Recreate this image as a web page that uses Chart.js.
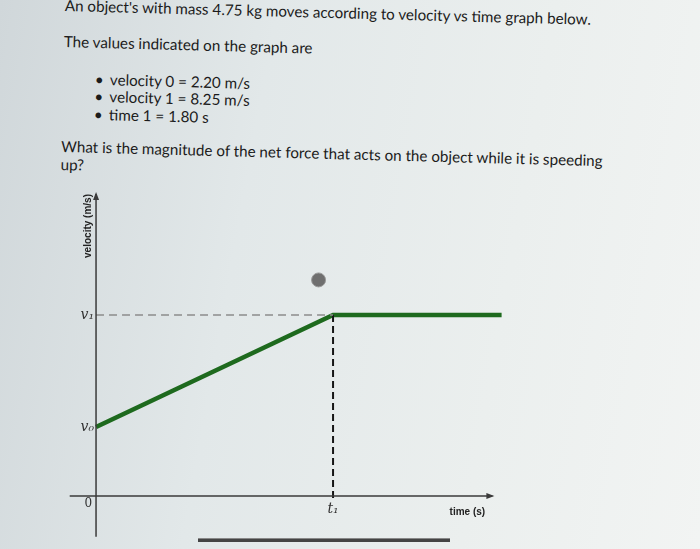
<!DOCTYPE html>
<html>
<head>
<meta charset="utf-8">
<script src="https://cdn.jsdelivr.net/npm/chart.js@4.4.0/dist/chart.umd.min.js"></script>
<style>
  html, body { margin: 0; padding: 0; }
  body {
    width: 700px; height: 549px; overflow: hidden; position: relative;
    background: linear-gradient(100deg, #d0d7da 0%, #e2e8e9 35%, #ebefee 70%, #f2f4f3 100%);
    font-family: Lato, "Open Sans", sans-serif; color: #1b1b1b;
  }
  .question { position: absolute; left: 65px; top: 0; transform: rotate(1.5deg); transform-origin: 0 0; font-size: 15.2px; }
  .question div { position: absolute; left: 0; white-space: nowrap; }
  .question .item { left: 47px; }
  .question .item::before { content: "\2022"; position: absolute; left: -15px; }
  #wrap { position: absolute; left: 0; top: 180px; width: 700px; height: 369px; }
  .edge { position: absolute; left: 198px; top: 538px; width: 252px; height: 3px; background: #444; border-top: 1px solid #888; }
</style>
</head>
<body>
<div class="question">
  <div style="top:-4px">An object's with mass 4.75 kg moves according to velocity vs time graph below.</div>
  <div style="top:32px">The values indicated on the graph are</div>
  <div class="item" style="top:69px">velocity 0 = 2.20 m/s</div>
  <div class="item" style="top:86px">velocity 1 = 8.25 m/s</div>
  <div class="item" style="top:104px">time 1 = 1.80 s</div>
  <div style="top:137px">What is the magnitude of the net force that acts on the object while it is speeding</div>
  <div style="top:155px">up?</div>
</div>
<div id="wrap"><canvas id="graph"></canvas></div>
<div class="edge"></div>
<script>
// sketch values (drawn heights, the figure is not to scale)
const motionTimes = [0, 1.8, 3.08];
const motionVelocities = [2.2, 5.77, 5.77];
const velocityTickValues = [0, 2.2, 5.77];
const velocityTickLabels = ["0", "v\u2080", "v\u2081"];
const timeTickValues = [1.8];
const timeTickLabels = ["t\u2081"];
const dotTime = [1.69];
const dotVelocity = [6.89];

const t1 = timeTickValues[0];
const v1 = velocityTickValues[2];

// axes, arrows, tick labels and titles
const axesPlugin = {
  id: "axes",
  afterDatasetsDraw(chart) {
    const ctx = chart.ctx;
    const x = chart.scales.x;
    const y = chart.scales.y;
    const x0 = x.getPixelForValue(0);
    const y0 = y.getPixelForValue(0);
    ctx.save();
    ctx.strokeStyle = "#3a3a3a";
    ctx.fillStyle = "#3a3a3a";
    ctx.lineWidth = 1.5;
    // x axis
    const xEnd = x.getPixelForValue(3.01);
    ctx.beginPath();
    ctx.moveTo(x.getPixelForValue(-0.2), y0);
    ctx.lineTo(xEnd, y0);
    ctx.stroke();
    ctx.beginPath();
    ctx.moveTo(xEnd + 2, y0);
    ctx.lineTo(xEnd - 6, y0 - 3);
    ctx.lineTo(xEnd - 6, y0 + 3);
    ctx.closePath();
    ctx.fill();
    // y axis
    const yTop = y.getPixelForValue(9.63);
    ctx.beginPath();
    ctx.moveTo(x0, y.getPixelForValue(-1.3));
    ctx.lineTo(x0, yTop);
    ctx.stroke();
    ctx.beginPath();
    ctx.moveTo(x0, yTop - 2);
    ctx.lineTo(x0 - 3, yTop + 6);
    ctx.lineTo(x0 + 3, yTop + 6);
    ctx.closePath();
    ctx.fill();

    // tick labels
    ctx.fillStyle = "#333";
    ctx.textAlign = "right";
    ctx.textBaseline = "middle";
    velocityTickValues.forEach((v, i) => {
      const py = y.getPixelForValue(v);
      if (i === 0) {
        ctx.font = "12px 'DejaVu Serif'";
        ctx.fillText(velocityTickLabels[i], x0 - 4, py + 8);
      } else {
        ctx.font = "italic 14px 'DejaVu Serif'";
        ctx.fillText(velocityTickLabels[i], x0 - 2, py);
      }
    });
    ctx.textAlign = "center";
    ctx.textBaseline = "top";
    ctx.font = "italic 14px 'DejaVu Serif'";
    timeTickValues.forEach((t, i) => {
      ctx.fillText(timeTickLabels[i], x.getPixelForValue(t), y0 + 6);
    });

    // axis titles
    ctx.fillStyle = "#222";
    ctx.font = "bold 10px 'Liberation Sans'";
    ctx.textAlign = "center";
    ctx.textBaseline = "middle";
    ctx.fillText("time (s)", x.getPixelForValue(2.82), y0 + 16);
    ctx.translate(x0 - 8, y.getPixelForValue(8.61));
    ctx.rotate(-Math.PI / 2);
    ctx.fillText("velocity (m/s)", 0, 0);
    ctx.restore();
  }
};

const ctx = document.getElementById("graph").getContext("2d");
new Chart(ctx, {
  type: "scatter",
  data: {
    datasets: [
      {
        label: "v1 guide",
        data: [{ x: 0, y: v1 }, { x: t1, y: v1 }],
        showLine: true,
        borderColor: "#8c8c8c",
        borderWidth: 1.5,
        borderDash: [8, 5],
        pointRadius: 0,
      },
      {
        label: "t1 guide",
        data: [{ x: t1, y: v1 }, { x: t1, y: -0.15 }],
        showLine: true,
        borderColor: "#151515",
        borderWidth: 2,
        borderDash: [7, 4],
        pointRadius: 0,
      },
      {
        label: "velocity",
        data: motionTimes.map((t, i) => ({ x: t, y: motionVelocities[i] })),
        showLine: true,
        borderColor: "#1e6a1e",
        borderWidth: 4.5,
        pointRadius: 0,
        tension: 0,
      },
      {
        label: "dot",
        data: dotTime.map((t, i) => ({ x: t, y: dotVelocity[i] })),
        pointRadius: 7,
        pointBackgroundColor: "#6f6f6f",
        pointBorderColor: "#999",
        pointBorderWidth: 1,
      },
    ],
  },
  options: {
    responsive: true,
    maintainAspectRatio: false,
    animation: false,
    layout: { padding: { left: 69.7, right: 182.6, top: 11.8, bottom: 18.5 } },
    plugins: {
      legend: { display: false },
      tooltip: { enabled: false },
    },
    scales: {
      x: { type: "linear", min: -0.2, max: 3.2, display: false },
      y: { type: "linear", min: -1.1, max: 9.7, display: false },
    },
  },
  plugins: [axesPlugin],
});
</script>
</body>
</html>
